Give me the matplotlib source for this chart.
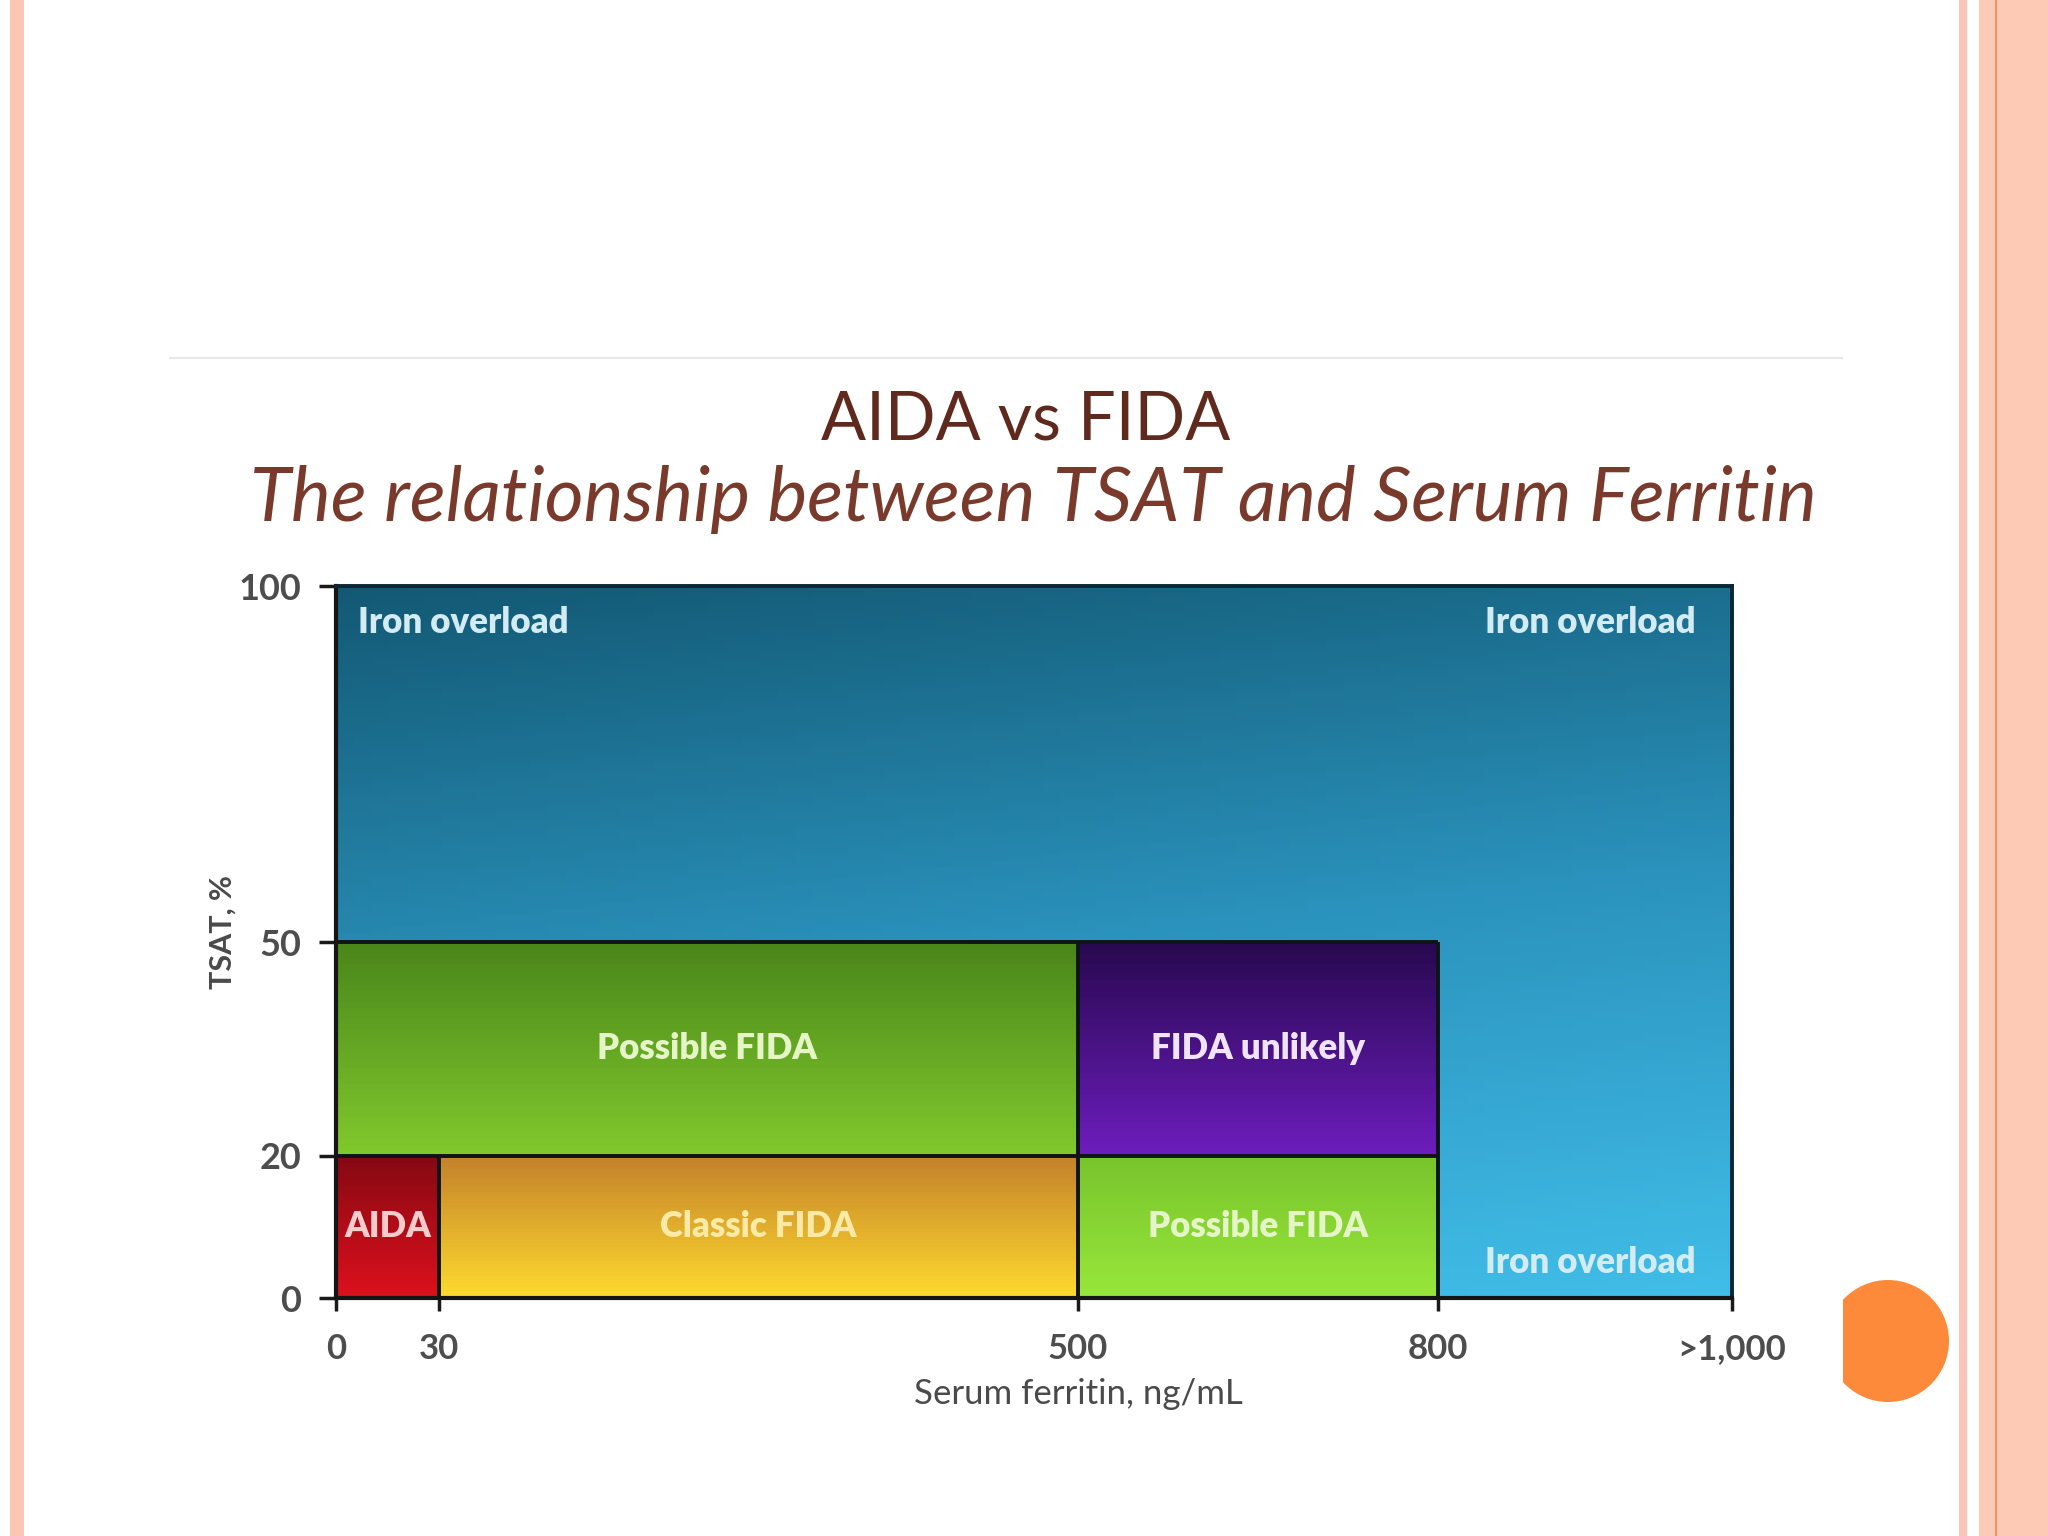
import numpy as np
import matplotlib.pyplot as plt
from matplotlib.colors import LinearSegmentedColormap
from matplotlib.patches import Rectangle, Ellipse
from matplotlib.lines import Line2D

# ---------------- data ----------------
ferritin_ticks = [0, 30, 500, 800, 1000]
ferritin_labels = ["0", "30", "500", "800", ">1,000"]
tsat_ticks = [0, 20, 50, 100]

zone_names = ["AIDA", "Classic FIDA", "Possible FIDA", "Possible FIDA", "FIDA unlikely"]
zone_x0 = [0, 30, 500, 0, 500]
zone_x1 = [30, 500, 800, 500, 800]
zone_y0 = [0, 0, 0, 20, 20]
zone_y1 = [20, 20, 20, 50, 50]

# the x axis in the figure is not linear: 0-30 is stretched
axis_knots = [0, 0.0738, 0.5315, 0.7894, 1.0]


def fwd(x):
    return np.interp(x, ferritin_ticks, axis_knots)


def inv(u):
    return np.interp(u, axis_knots, ferritin_ticks)


# gradient colours (top, bottom) for every zone
zone_colors = {
    "AIDA": ("#860812", "#dc101c"),
    "Classic FIDA": ("#c4822a", "#fdd92e"),
    "Possible FIDA_low": ("#78c42c", "#97e63a"),
    "Possible FIDA_high": ("#4a861a", "#80c82c"),
    "FIDA unlikely": ("#280950", "#6c1cbc"),
}
text_colors = {
    "AIDA": "#f6cccc",
    "Classic FIDA": "#fbe9a6",
    "Possible FIDA": "#e6f5c8",
    "FIDA unlikely": "#efe4fb",
}

fam = ["Lato", "DejaVu Sans"]

fig = plt.figure(figsize=(20.48, 15.36), dpi=100)

# ----------- slide decorations -----------
fig.add_artist(Rectangle((10 / 2048, 0), 14 / 2048, 1, transform=fig.transFigure,
                         color="#fcc6b4", lw=0, zorder=-5))
fig.add_artist(Rectangle((1959 / 2048, 0), 8 / 2048, 1, transform=fig.transFigure,
                         color="#fcc4b6", lw=0, zorder=-5))
fig.add_artist(Rectangle((1979 / 2048, 0), 69 / 2048, 1, transform=fig.transFigure,
                         color="#fdcab5", lw=0, zorder=-5))
fig.add_artist(Line2D([1996 / 2048, 1996 / 2048], [0, 1], transform=fig.transFigure,
                      color="#f2894e", lw=1.2, zorder=-4))
fig.add_artist(Ellipse((1888 / 2048, 1 - 1341 / 1536), 122 / 2048, 122 / 1536,
                       transform=fig.transFigure, color="#fd8a3a", lw=0, zorder=-3))
# pasted picture covers the left part of the circle
fig.add_artist(Rectangle((170 / 2048, 0), (1843 - 170) / 2048, 1 - 358 / 1536,
                         transform=fig.transFigure, color="white", lw=0, zorder=-2))
fig.add_artist(Line2D([170 / 2048, 1842 / 2048], [1 - 358 / 1536, 1 - 358 / 1536],
                      transform=fig.transFigure, color="#e8e8e8", lw=1.5, zorder=-1))

# ----------- titles -----------
fig.text(1026 / 2048, 1 - 420 / 1536, "AIDA vs FIDA", ha="center", va="center",
         fontsize=48, color="#5f2a1d", family=fam)
fig.text(1033 / 2048, 1 - 500 / 1536, "The relationship between TSAT and Serum Ferritin",
         ha="center", va="center", fontsize=54, style="italic", color="#7a3a2b", family=fam)

# ----------- chart -----------
ax = fig.add_axes([336 / 2048, 1 - 1298 / 1536, 1396 / 2048, 712 / 1536])
ax.set_xscale("function", functions=(fwd, inv))
ax.set_xlim(0, 1000)
ax.set_ylim(0, 100)

# iron overload background, dark top-left to light bottom-right
blue = LinearSegmentedColormap.from_list("blue", ["#125873", "#2a92bc", "#40bde8"])
gx = inv(np.linspace(0, 1, 80))
gy = np.linspace(0, 100, 120)
GX, GY = np.meshgrid(fwd(gx), gy)
shade = np.clip(0.82 * (1 - GY / 100) + 0.18 * GX, 0, 1)
ax.pcolormesh(gx, gy, shade[:-1, :-1], cmap=blue, vmin=0, vmax=1,
              shading="flat", antialiased=False, zorder=0)

for name, x0, x1, y0, y1 in zip(zone_names, zone_x0, zone_x1, zone_y0, zone_y1):
    key = name
    if name == "Possible FIDA":
        key = name + ("_low" if y0 == 0 else "_high")
    cmap = LinearSegmentedColormap.from_list(key, [zone_colors[key][1], zone_colors[key][0]])
    ys = np.linspace(y0, y1, 40)
    vals = np.linspace(0, 1, 39)[:, None]
    ax.pcolormesh([x0, x1], ys, vals, cmap=cmap, vmin=0, vmax=1,
                  shading="flat", antialiased=False, zorder=1)
    # label in the middle of the zone as drawn
    xm = inv((fwd(x0) + fwd(x1)) / 2)
    ax.text(xm, (y0 + y1) / 2, name, ha="center", va="center", fontsize=25,
            fontweight="heavy", color=text_colors[name], family=fam, zorder=3)

# borders between zones
line_kw = dict(color="#0e1418", lw=2.8, zorder=2)
ax.hlines([50, 20], 0, 800, **line_kw)
ax.vlines(30, 0, 20, **line_kw)
ax.vlines(500, 0, 50, **line_kw)
ax.vlines(800, 0, 50, **line_kw)

for pos, ha, yv in [(0.016, "left", 0.949), (0.974, "right", 0.949), (0.974, "right", 0.05)]:
    ax.text(pos, yv, "Iron overload", transform=ax.transAxes, ha=ha, va="center",
            fontsize=25, fontweight="heavy", color="#d3ebf3", family=fam, zorder=3)

for side in ["left", "bottom"]:
    ax.spines[side].set_color("#151515")
    ax.spines[side].set_linewidth(3)
for side in ["top", "right"]:
    ax.spines[side].set_color("#0b2634")
    ax.spines[side].set_linewidth(2.8)
for s in ax.spines.values():
    s.set_zorder(4)

ax.set_xticks(ferritin_ticks)
ax.set_xticklabels(ferritin_labels)
ax.xaxis.set_minor_locator(plt.NullLocator())
ax.set_yticks(tsat_ticks)
ax.tick_params(axis="x", length=9, width=2.5, color="#1a1a1a", pad=16,
               labelsize=25, labelcolor="#4d4d4d")
ax.tick_params(axis="y", length=12, width=2.5, color="#1a1a1a", pad=13,
               labelsize=26, labelcolor="#4d4d4d")
for lab in ax.get_xticklabels() + ax.get_yticklabels():
    lab.set_family(fam)
    lab.set_fontweight("bold")

ax.set_xlabel("Serum ferritin, ng/mL", fontsize=25, color="#4a4a4a", family=fam)
ax.xaxis.set_label_coords(0.5315, -0.112)
ax.set_ylabel("TSAT, %", fontsize=22, color="#4a4a4a", family=fam, fontweight="bold")
ax.yaxis.set_label_coords(-0.071, 0.514)

plt.savefig("out.png", dpi=100)
